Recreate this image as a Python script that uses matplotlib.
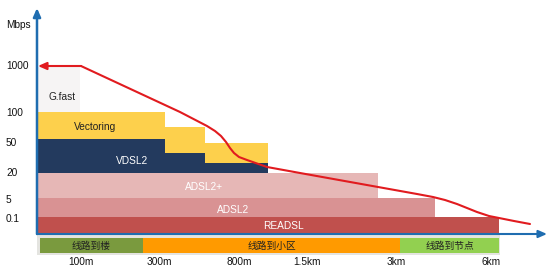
import matplotlib
matplotlib.use("Agg")
import matplotlib.pyplot as plt
from matplotlib.patches import Rectangle

plt.rcParams['font.family'] = ['Liberation Sans', 'Noto Sans CJK SC', 'DejaVu Sans']

# ---- data (schematic units: x = position along distance axis, y = rate level) ----
y_tick_labels = ["1000", "100", "50", "20", "5", "0.1"]
y_tick_pos = [168, 121, 91, 61, 34, 15]
x_tick_labels = ["100m", "300m", "800m", "1.5km", "3km", "6km"]
x_tick_pos = [44, 122, 202, 270, 359, 454]

# stepped technologies: (x_start, x_end, y_bottom, y_top)
gfast_box = [1, 43, 122, 167]
vectoring_steps = [(1, 128, 95, 122), (128, 168, 81, 107), (168, 231, 71, 91)]
vdsl2_steps = [(1, 128, 61, 95), (128, 168, 61, 81), (168, 231, 61, 71)]
adsl_names = ["ADSL2+", "ADSL2", "READSL"]
adsl_reach = [341, 398, 462]
adsl_bottom = [36, 17, 0]
adsl_top = [61, 36, 17]

zones = ["线路到楼", "线路到小区", "线路到节点"]
zone_start = [3, 106, 363]
zone_end = [106, 363, 462]

curve_x = [44, 143, 170, 178, 184, 189, 193, 197, 202, 210, 230, 263, 341, 380, 396,
           408, 420, 430, 440, 452, 462, 477, 493]
curve_y = [168, 122, 108, 103, 98, 92, 86, 81, 77, 74, 67, 61, 47, 40, 37,
           34, 30, 26, 22, 18, 16, 13, 10]

# ---- figure ----
fig = plt.figure(figsize=(5.5, 2.69), dpi=100)
ax = fig.add_axes([0, 0, 1, 1])
ax.set_xlim(-37, 513)
ax.set_ylim(-35, 234)
ax.axis('off')

def box(x0, x1, y0, y1, color, z=1):
    ax.add_patch(Rectangle((x0, y0), x1 - x0, y1 - y0, facecolor=color, edgecolor='none', zorder=z))

box(gfast_box[0], gfast_box[1], gfast_box[2], gfast_box[3], '#f6f4f4')
for (x0, x1, y0, y1) in vectoring_steps:
    box(x0, x1, y0, y1, '#fdd04c')
for (x0, x1, y0, y1) in vdsl2_steps:
    box(x0, x1, y0, y1, '#233a5e')
adsl_colors = ['#e6b7b6', '#d99293', '#c0504d']
for x1, y0, y1, c in zip(adsl_reach, adsl_bottom, adsl_top, adsl_colors):
    box(1, x1, y0, y1, c)

fs = 7.3
ax.text(25, 137, "G.fast", fontsize=fs, color='#222222', ha='center', va='center')
ax.text(58, 107, "Vectoring", fontsize=fs, color='#222222', ha='center', va='center')
ax.text(95, 73, "VDSL2", fontsize=fs, color='white', ha='center', va='center')
label_x = [167, 196, 246]
label_y = [47, 24, 8]
for n, lx, ly in zip(adsl_names, label_x, label_y):
    ax.text(lx, ly, n, fontsize=fs, color='white', ha='center', va='center')

# bottom zone strip
box(0, 463, -21, -1, '#e4e4e0', z=0)
zone_colors = ['#7a9a3e', '#ff9a00', '#92d050']
for n, x0, x1, c in zip(zones, zone_start, zone_end, zone_colors):
    box(x0, x1, -19, -4, c)
    ax.text((x0 + x1) / 2, -12, n, fontsize=7, color='#222222', ha='center', va='center',
            family=['Noto Sans CJK SC', 'DejaVu Sans'])

# axes arrows
ax.annotate('', xy=(0, 226), xytext=(0, 0),
            arrowprops=dict(arrowstyle='-|>,head_length=0.5,head_width=0.22', color='#1f6db0', lw=1.8,
                            shrinkA=0, shrinkB=0), zorder=5)
ax.annotate('', xy=(510, 0), xytext=(0, 0),
            arrowprops=dict(arrowstyle='-|>,head_length=0.5,head_width=0.22', color='#1f6db0', lw=1.5,
                            shrinkA=0, shrinkB=0), zorder=5)

# red curve
ax.plot(curve_x, curve_y, color='#e11b1f', lw=1.5, zorder=6, solid_capstyle='round',
        solid_joinstyle='round')
ax.annotate('', xy=(1, curve_y[0]), xytext=(curve_x[0], curve_y[0]),
            arrowprops=dict(arrowstyle='-|>,head_length=0.5,head_width=0.22', color='#e11b1f', lw=1.5,
                            shrinkA=0, shrinkB=0), zorder=6)

# tick labels
ax.text(-31, 209, "Mbps", fontsize=fs, color='#111111', ha='left', va='center')
for lab, y in zip(y_tick_labels, y_tick_pos):
    ax.text(-31, y, lab, fontsize=fs, color='#111111', ha='left', va='center')
for lab, x in zip(x_tick_labels, x_tick_pos):
    ax.text(x, -28, lab, fontsize=fs, color='#111111', ha='center', va='center')

fig.savefig("out.png", dpi=100)
